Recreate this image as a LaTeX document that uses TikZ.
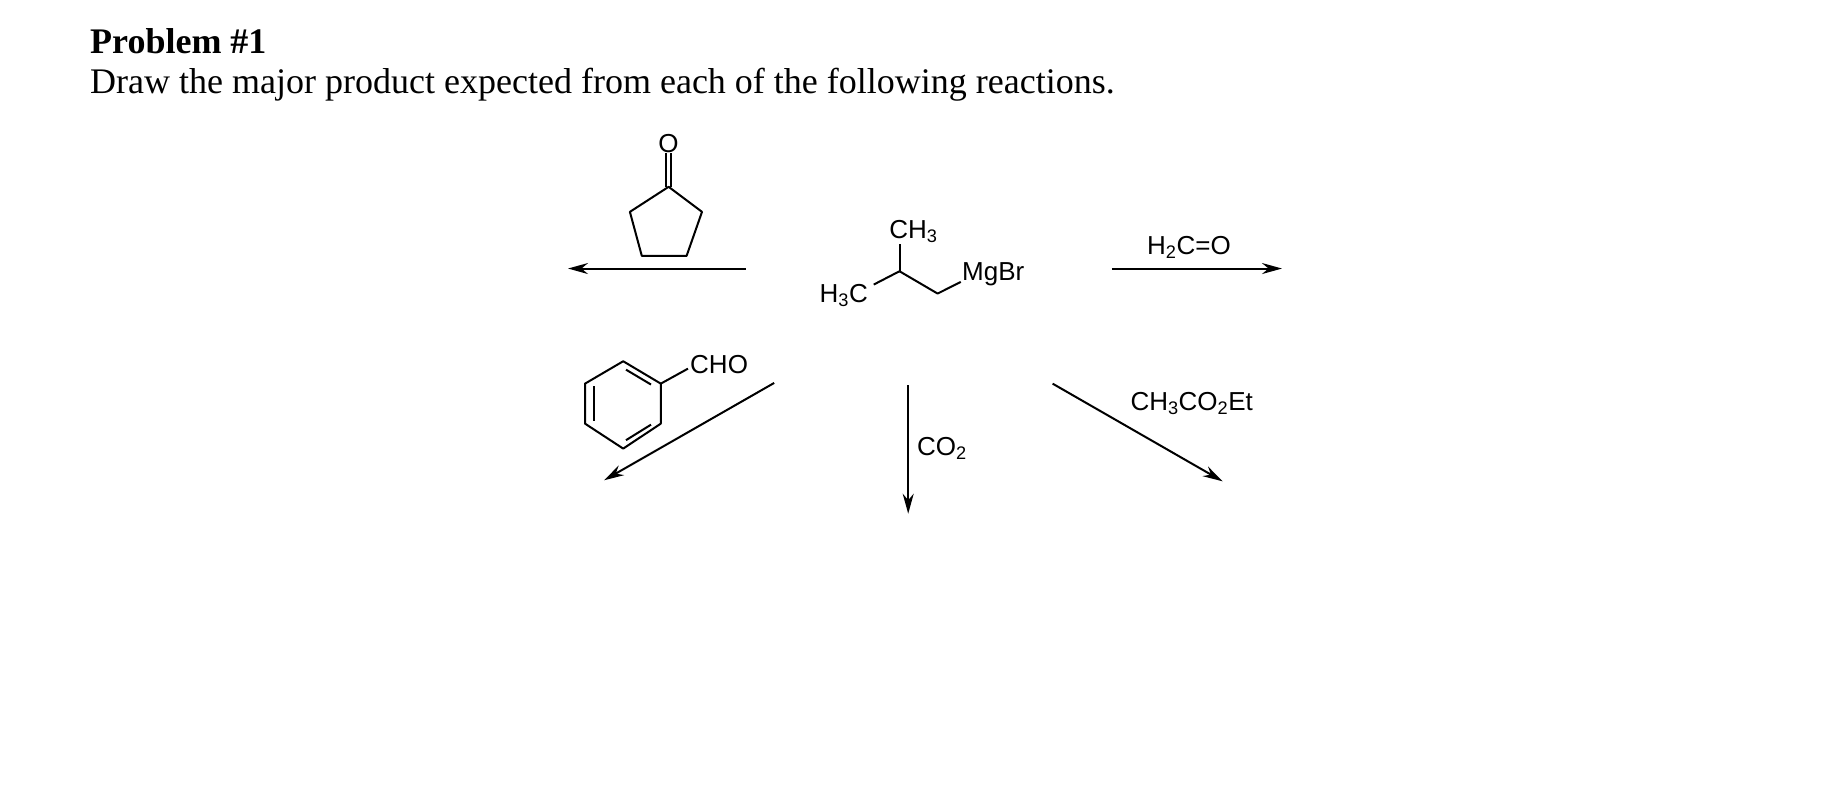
\documentclass[tikz,border=0pt]{standalone}
\usepackage{fontspec}
\setmainfont{Liberation Serif}
\newfontfamily\chemfont{Liberation Sans}
\usetikzlibrary{arrows.meta}
\begin{document}
\begin{tikzpicture}[x=1pt,y=-1pt,
  bond/.style={line width=2pt},
  rxn/.style={line width=2pt,-{Stealth[length=20pt,width=11pt]}},
  lbl/.style={font=\chemfont\fontsize{26}{28}\selectfont,inner sep=0pt},
  hdr/.style={font=\fontsize{36}{40}\selectfont,inner sep=0pt,anchor=base west}]
\useasboundingbox (0,0) rectangle (1821,794);
\node[hdr,font=\bfseries\fontsize{36}{40}\selectfont] (t1) at (90,54) {Problem \#1};
\node[hdr] (t2) at (90,94) {Draw the major product expected from each of the following reactions.};
\begin{scope}[yshift=-37.1pt,yscale=0.647]
% cyclopentanone
\node[lbl] (O1) at (668.6,164) {O};
\coordinate (c1) at (668.6,231.4);
\coordinate (c2) at (702,270.1);
\coordinate (c3) at (686.6,338.1);
\coordinate (c4) at (641.8,338.1);
\coordinate (c5) at (629.9,270.1);
\draw[bond,line join=round] (c1)--(c2)--(c3)--(c4)--(c5)--cycle;
\draw[bond] ([xshift=-2.5pt]c1) -- ([xshift=-2.5pt]O1.south);
\draw[bond] ([xshift=2.5pt]c1) -- ([xshift=2.5pt]O1.south);
\coordinate (la1) at (745.9,357.7);
\coordinate (la2) at (568,357.7);
\draw[rxn] (la1) -- (la2);
% Grignard
\node[lbl] (ch3) at (913.4,301) {CH\textsubscript{3}};
\node[lbl] (h3c) at (843.8,399) {H\textsubscript{3}C};
\node[lbl,anchor=west] (mgbr) at (962,367) {MgBr};
\coordinate (g0) at (899.5,320);
\coordinate (g1) at (899.5,361.9);
\coordinate (g2) at (937.6,396.4);
\coordinate (g3) at (873.7,382.5);
\coordinate (g4) at (960.8,378.4);
\draw[bond] (g0) -- (g1);
\draw[bond] (g1) -- (g3);
\draw[bond,line join=round] (g1) -- (g2) -- (g4);
% right arrow
\coordinate (ra1) at (1111.9,357.7);
\coordinate (ra2) at (1282,357.7);
\draw[rxn] (ra1) -- (ra2);
\node[lbl] (h2co) at (1189,325) {H\textsubscript{2}C=O};
% benzaldehyde
\coordinate (b1) at (623.2,501);
\coordinate (b2) at (660.8,535.6);
\coordinate (b3) at (660.8,597.4);
\coordinate (b4) at (623.2,636);
\coordinate (b5) at (585,597.4);
\coordinate (b6) at (585,535.6);
\draw[bond,line join=round] (b1)--(b2)--(b3)--(b4)--(b5)--(b6)--cycle;
\draw[bond] (626,514) -- (651,537);
\draw[bond] (594,540) -- (594,594);
\draw[bond] (626,623) -- (651,599);
\coordinate (b7) at (688,512.4);
\draw[bond] (b2) -- (b7);
\node[lbl,anchor=west] (cho) at (690,506) {CHO};
% diagonal arrows
\coordinate (da1) at (774.2,534.5);
\coordinate (da2) at (604,685);
\draw[rxn] (da1) -- (da2);
\coordinate (va1) at (908.2,538);
\coordinate (va2) at (908.2,736.6);
\draw[rxn] (va1) -- (va2);
\node[lbl,anchor=west] (co2) at (917,636) {CO\textsubscript{2}};
\coordinate (ea1) at (1052.6,535.6);
\coordinate (ea2) at (1222.7,686.6);
\draw[rxn] (ea1) -- (ea2);
\node[lbl] (ester) at (1191.7,566.5) {CH\textsubscript{3}CO\textsubscript{2}Et};
\end{scope}
\end{tikzpicture}
\end{document}
